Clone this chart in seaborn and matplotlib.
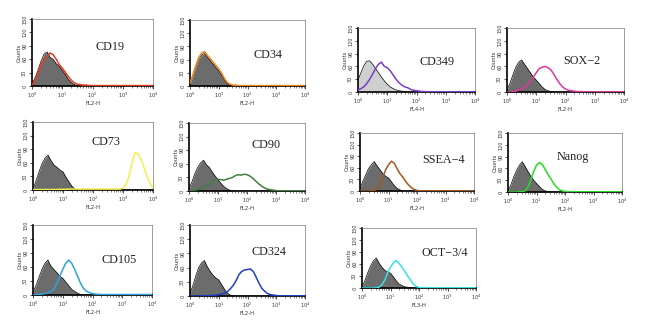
import numpy as np
import matplotlib
matplotlib.use("Agg")
import matplotlib.pyplot as plt
import seaborn as sns
from matplotlib.ticker import LogLocator, FixedLocator, NullFormatter

sns.set_theme(style="white")
plt.rcParams['font.family'] = ['DejaVu Sans']

# fluorescence channel grid: log10 intensity 0.0 .. 4.0 step 0.1
log_pos = [0.0, 0.1, 0.2, 0.3, 0.4, 0.5, 0.6, 0.7, 0.8, 0.9,
           1.0, 1.1, 1.2, 1.3, 1.4, 1.5, 1.6, 1.7, 1.8, 1.9,
           2.0, 2.1, 2.2, 2.3, 2.4, 2.5, 2.6, 2.7, 2.8, 2.9,
           3.0, 3.1, 3.2, 3.3, 3.4, 3.5, 3.6, 3.7, 3.8, 3.9,
           4.0]

ctrl_cd19 = [5, 18, 36, 56, 72, 76, 64, 60, 50, 44,
             35, 26, 15, 8, 3, 1, 0, 0, 0, 0,
             0, 0, 0, 0, 0, 0, 0, 0, 0, 0,
             0, 0, 0, 0, 0, 0, 0, 0, 0, 0,
             0]
cd19 = [3, 12, 28, 46, 60, 66, 74, 70, 60, 48,
        40, 31, 21, 13, 7, 4, 3, 2, 2, 1,
        1, 1, 1, 1, 1, 1, 1, 1, 1, 1,
        1, 1, 1, 1, 1, 1, 1, 1, 1, 1,
        1]

ctrl_cd34 = [5, 22, 42, 62, 70, 74, 66, 58, 50, 42,
             35, 25, 14, 5, 1, 0, 0, 0, 0, 0,
             0, 0, 0, 0, 0, 0, 0, 0, 0, 0,
             0, 0, 0, 0, 0, 0, 0, 0, 0, 0,
             0]
cd34 = [6, 25, 46, 64, 75, 78, 70, 63, 55, 47,
        39, 29, 17, 8, 4, 2, 2, 1, 1, 1,
        1, 1, 1, 1, 1, 1, 1, 1, 1, 1,
        1, 1, 1, 1, 1, 1, 1, 1, 1, 1,
        1]

ctrl_cd349 = [28, 45, 62, 72, 73, 65, 55, 45, 35, 26,
              18, 12, 8, 5, 3, 2, 1, 0, 0, 0,
              0, 0, 0, 0, 0, 0, 0, 0, 0, 0,
              0, 0, 0, 0, 0, 0, 0, 0, 0, 0,
              0]
cd349 = [5, 8, 12, 20, 30, 42, 55, 65, 70, 60,
         57, 50, 40, 30, 22, 16, 12, 10, 6, 4,
         3, 2, 1, 1, 0.5, 0.5, 0.5, 0.5, 0.5, 0.5,
         0.5, 0.5, 0.5, 0.5, 0.5, 0.5, 0.5, 0.5, 0.5, 0.5,
         0.5]

ctrl_sox2 = [5, 20, 40, 58, 70, 75, 65, 55, 45, 35,
             28, 20, 12, 6, 3, 1, 0, 0, 0, 0,
             0, 0, 0, 0, 0, 0, 0, 0, 0, 0,
             0, 0, 0, 0, 0, 0, 0, 0, 0, 0,
             0]
sox2 = [0, 0, 1, 2, 4, 7, 12, 17, 24, 35,
        45, 55, 58, 60, 57, 52, 42, 30, 20, 12,
        7, 4, 3, 2, 1, 1, 0.5, 0.5, 0.5, 0.5,
        0.5, 0.5, 0.5, 0.5, 0.5, 0.5, 0.5, 0.5, 0.5, 0.5,
        0.5]

ctrl_cd73 = [2, 20, 40, 58, 70, 77, 65, 55, 50, 44,
             40, 28, 18, 8, 2, 0, 0, 0, 0, 0,
             0, 0, 0, 0, 0, 0, 0, 0, 0, 0,
             0, 0, 0, 0, 0, 0, 0, 0, 0, 0,
             0]
cd73 = [1, 1, 1, 1, 1, 1, 1, 1, 1, 1.5,
        1.5, 1.5, 2, 2, 2, 2, 2, 2, 2, 2,
        2, 2, 2, 2, 2, 2, 2, 2, 2, 2,
        4, 12, 30, 60, 82, 80, 68, 50, 30, 15,
        4]

ctrl_cd90 = [5, 20, 38, 52, 62, 68, 58, 52, 42, 33,
             25, 17, 10, 5, 2, 0.5, 0, 0, 0, 0,
             0, 0, 0, 0, 0, 0, 0, 0, 0, 0,
             0, 0, 0, 0, 0, 0, 0, 0, 0, 0,
             0]
cd90 = [0, 1, 2, 3, 5, 8, 12, 15, 20, 24,
        26, 25, 24, 26, 28, 30, 34, 36, 35, 37,
        36, 33, 28, 22, 16, 11, 7, 4, 3, 2,
        1, 0.5, 0.5, 0.5, 0.5, 0.5, 0.5, 0.5, 0.5, 0.5,
        0.5]

ctrl_ssea4 = [8, 25, 42, 58, 68, 76, 65, 55, 45, 38,
              34, 24, 14, 7, 3, 0.5, 0, 0, 0, 0,
              0, 0, 0, 0, 0, 0, 0, 0, 0, 0,
              0, 0, 0, 0, 0, 0, 0, 0, 0, 0,
              0]
ssea4 = [0, 0, 0, 0, 0.5, 1, 5, 16, 35, 55,
         68, 77, 72, 58, 45, 36, 25, 16, 9, 4,
         1.5, 0.5, 0.5, 0.5, 0.5, 0.5, 0.5, 0.5, 0.5, 0.5,
         0.5, 0.5, 0.5, 0.5, 0.5, 0.5, 0.5, 0.5, 0.5, 0.5,
         0.5]

ctrl_nanog = [3, 18, 38, 55, 68, 77, 65, 52, 40, 30,
              22, 14, 7, 3, 1, 0, 0, 0, 0, 0,
              0, 0, 0, 0, 0, 0, 0, 0, 0, 0,
              0, 0, 0, 0, 0, 0, 0, 0, 0, 0,
              0]
nanog = [0, 0, 0, 0, 0.5, 1, 3, 12, 30, 52,
         68, 75, 70, 58, 45, 34, 22, 13, 6, 3,
         1.5, 1, 0.5, 0.5, 0.5, 0.5, 0.5, 0.5, 0.5, 0.5,
         0.5, 0.5, 0.5, 0.5, 0.5, 0.5, 0.5, 0.5, 0.5, 0.5,
         0.5]

ctrl_cd105 = [7, 20, 38, 55, 68, 75, 62, 55, 48, 40,
              36, 28, 20, 12, 8, 4, 1, 0, 0, 0,
              0, 0, 0, 0, 0, 0, 0, 0, 0, 0,
              0, 0, 0, 0, 0, 0, 0, 0, 0, 0,
              0]
cd105 = [0, 1, 1, 2, 3, 5, 7, 12, 25, 40,
         55, 68, 75, 68, 55, 40, 25, 14, 8, 5,
         3, 2, 1.5, 1, 1, 1, 1, 1, 1, 1,
         1, 1, 1, 1, 1, 1, 1, 1, 1, 1,
         1]

ctrl_cd324 = [5, 22, 42, 60, 70, 75, 62, 52, 44, 38,
              34, 24, 14, 6, 2, 0.5, 0, 0, 0, 0,
              0, 0, 0, 0, 0, 0, 0, 0, 0, 0,
              0, 0, 0, 0, 0, 0, 0, 0, 0, 0,
              0]
cd324 = [0, 0, 0, 0, 0.5, 0.5, 1, 1, 1.5, 2,
         3, 4, 6, 9, 15, 22, 32, 45, 52, 55,
         56, 57, 52, 40, 27, 16, 10, 5, 3, 2,
         1, 0.5, 0.5, 0.5, 0.5, 0.5, 0.5, 0.5, 0.5, 0.5,
         0.5]

ctrl_oct34 = [3, 18, 38, 55, 68, 75, 62, 52, 44, 40,
              37, 28, 18, 10, 6, 3, 2, 1, 0, 0,
              0, 0, 0, 0, 0, 0, 0, 0, 0, 0,
              0, 0, 0, 0, 0, 0, 0, 0, 0, 0,
              0]
oct34 = [0, 0, 0, 0, 0, 0.5, 2, 8, 20, 38,
         52, 63, 69, 62, 52, 42, 30, 20, 10, 4,
         1.5, 0.5, 0.5, 0.5, 0.5, 0.5, 0.5, 0.5, 0.5, 0.5,
         0.5, 0.5, 0.5, 0.5, 0.5, 0.5, 0.5, 0.5, 0.5, 0.5,
         0.5]

markers = ["CD19", "CD34", "CD349", "SOX\u22122", "CD73", "CD90",
           "SSEA\u22124", "Nanog", "CD105", "CD324", "OCT\u22123/4"]
channels = ["FL2-H", "FL2-H", "FL4-H", "FL2-H", "FL2-H", "FL2-H",
            "FL2-H", "FL2-H", "FL2-H", "FL2-H", "FL3-H"]
ctrl_series = [ctrl_cd19, ctrl_cd34, ctrl_cd349, ctrl_sox2, ctrl_cd73, ctrl_cd90,
               ctrl_ssea4, ctrl_nanog, ctrl_cd105, ctrl_cd324, ctrl_oct34]
stain_series = [cd19, cd34, cd349, sox2, cd73, cd90,
                ssea4, nanog, cd105, cd324, oct34]
y_ticks = [0, 30, 60, 90, 120, 150]

# layout (pixels: left, right, top, bottom), colours, label placement
boxes = [(32, 153, 19, 86), (190, 305, 20, 86), (358, 475, 28, 92), (507, 624, 28, 92),
         (33, 153, 122, 190), (189, 305, 123, 191), (360, 474, 133, 191), (508, 622, 133, 192),
         (33, 152, 225, 295), (190, 305, 225, 296), (362, 476, 228, 288)]
colors = ["#e23a1e", "#f0861a", "#7a3cc8", "#e0369c", "#f2f04a", "#3f7f3f",
          "#a8561c", "#26dd26", "#2ba3e0", "#1f3ec4", "#36e4e4"]
fills = ["#6c6c6c"] * 11
fills[2] = "#cfcfcf"
label_px = [(96, 47), (253, 55), (420, 62), (563, 61), (91, 142), (252, 145),
            (422, 160), (557, 157), (102, 260), (252, 252), (422, 253)]

W, H = 648, 332
fig = plt.figure(figsize=(W / 100, H / 100), dpi=100)

xvals = [10 ** v for v in log_pos]
for i, name in enumerate(markers):
    l, r, t, b = boxes[i]
    ax = fig.add_axes([l / W, 1 - b / H, (r - l) / W, (b - t) / H])
    ax.set_facecolor("white")
    ax.fill_between(xvals, ctrl_series[i], 0, color=fills[i], lw=0, zorder=1)
    sns.lineplot(x=xvals, y=ctrl_series[i], ax=ax, color="black", lw=0.5, zorder=2)
    sns.lineplot(x=xvals, y=stain_series[i], ax=ax, color=colors[i], lw=1.1, zorder=3)
    ax.set_xscale("log")
    ax.set_xlim(1, 1e4)
    ax.set_ylim(0, 150)
    ax.set_yticks(y_ticks)
    ax.set_yticklabels([str(v) for v in y_ticks], rotation=90, va="center")
    ax.xaxis.set_major_locator(LogLocator(base=10, numticks=6))
    ax.xaxis.set_minor_locator(LogLocator(base=10, subs=np.arange(2, 10), numticks=12))
    ax.xaxis.set_minor_formatter(NullFormatter())
    ax.tick_params(axis="both", which="major", labelsize=3.6, length=2.5, width=0.6,
                   pad=1, colors="#333333", direction="out", bottom=True, left=True)
    ax.tick_params(axis="x", which="minor", length=1.5, width=0.4, bottom=True)
    for side in ["left", "bottom"]:
        ax.spines[side].set_linewidth(1.2)
        ax.spines[side].set_color("black")
    for side in ["top", "right"]:
        ax.spines[side].set_linewidth(0.5)
        ax.spines[side].set_color("#777777")
    ax.set_xlabel(channels[i], fontsize=3.8, labelpad=0.5, color="#333333")
    ax.set_ylabel("Counts", fontsize=3.8, labelpad=0.5, color="#333333")
    lx, ly = label_px[i]
    fig.text(lx / W, 1 - ly / H, name, fontsize=8.7, family="Liberation Serif",
             ha="left", va="center", color="#222222")

fig.savefig("out.png", dpi=100)
